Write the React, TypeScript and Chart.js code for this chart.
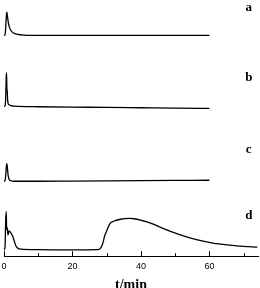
import React, { useEffect, useRef } from "react";
import { Chart, registerables } from "chart.js";

Chart.register(...registerables);

// time (min) and signal (a.u.) for each trace
const timeA = [0, 0.3, 0.5, 0.7, 0.85, 1.0, 1.3, 1.7, 2.2, 3, 4, 6, 10, 20, 30, 40, 50, 60];
const sigA = [0, 0.5, 8, 20, 23, 19, 12, 7, 4, 2, 1, 0.3, 0, 0, 0, 0, 0, 0];

const timeB = [0, 0.3, 0.5, 0.65, 0.75, 0.85, 0.95, 1.05, 1.2, 1.5, 2, 3, 10, 20, 30, 40, 50, 60];
const sigB = [1, 1.5, 10, 30, 34, 18, 16, 8, 4, 2.5, 1.8, 1.2, 0.6, 0.2, 0, -0.4, -0.8, -1];

const timeC = [0, 0.3, 0.5, 0.7, 0.85, 1.0, 1.2, 1.5, 2, 3, 10, 20, 30, 40, 50, 60];
const sigC = [0, 0.5, 6, 15, 17.5, 13, 6, 2, 0.5, 0, 0, 0.2, 0.4, 0.6, 0.8, 1];

const timeD = [0, 0.3, 0.5, 0.65, 0.8, 1.0, 1.15, 1.5, 2.0, 2.5, 3.0, 3.5, 4.2, 5, 10, 20, 27.5, 28.2, 28.8, 29.4, 30, 30.9, 32, 34, 36.7, 38, 40, 43, 46.4, 51.3, 56.2, 61, 66, 70, 74];
const sigD = [0, 3, 30, 38, 20, 22, 15, 19, 17, 14, 9, 4, 1.5, 1, 0.5, 0.3, 0.5, 2, 6, 14, 19, 26, 28.5, 30.5, 31.3, 31, 29.5, 26.5, 21.5, 15.3, 10.3, 7, 5, 3.8, 3];

// vertical offsets for stacking traces
const offsets = [218, 147, 74, 6];
const traceLabels = ["a", "b", "c", "d"];
const labelX = [71.5, 71.5, 71.5, 71.5];
const labelY = [245, 176, 105, 40];

const xTicksMajor = [0, 20, 40, 60];
const xTicksMinor = [10, 30, 50, 70];
const xTitle = "t/min";

export default function App() {
  const ref = useRef<HTMLCanvasElement | null>(null);
  useEffect(() => {
    document.body.style.margin = "0";
    const mk = (t: number[], s: number[], off: number) =>
      t.map((x, i) => ({ x, y: s[i] + off }));
    const datasets = [
      mk(timeA, sigA, offsets[0]),
      mk(timeB, sigB, offsets[1]),
      mk(timeC, sigC, offsets[2]),
      mk(timeD, sigD, offsets[3]),
    ].map((data) => ({
      data,
      borderColor: "#000",
      borderWidth: 1.3,
      pointRadius: 0,
      cubicInterpolationMode: "monotone" as const,
      fill: false,
    }));

    const extras = {
      id: "extras",
      afterDraw(chart: any) {
        const ctx = chart.ctx;
        const xs = chart.scales.x;
        const ys = chart.scales.y;
        const yb = xs.top;
        ctx.save();
        ctx.strokeStyle = "#000";
        ctx.lineWidth = 1;
        xTicksMajor.forEach((v) => {
          const px = Math.round(xs.getPixelForValue(v)) + 0.5;
          ctx.beginPath();
          ctx.moveTo(px, yb);
          ctx.lineTo(px, yb - 5);
          ctx.stroke();
        });
        xTicksMinor.forEach((v) => {
          const px = Math.round(xs.getPixelForValue(v)) + 0.5;
          ctx.beginPath();
          ctx.moveTo(px, yb);
          ctx.lineTo(px, yb - 3);
          ctx.stroke();
        });
        ctx.fillStyle = "#000";
        ctx.font = "bold 13px 'Liberation Serif'";
        ctx.textAlign = "center";
        ctx.textBaseline = "middle";
        traceLabels.forEach((l, i) => {
          ctx.fillText(l, xs.getPixelForValue(labelX[i]), ys.getPixelForValue(labelY[i]));
        });
        ctx.font = "bold 14px 'Liberation Serif'";
        ctx.fillText(xTitle, (chart.chartArea.left + chart.chartArea.right) / 2, yb + 29);
        ctx.restore();
      },
    };

    const chart = new Chart(ref.current!, {
      type: "line",
      data: { datasets },
      options: {
        animation: false,
        responsive: true,
        maintainAspectRatio: false,
        layout: { padding: { left: 4, right: 2, top: 0, bottom: 11 } },
        plugins: { legend: { display: false }, tooltip: { enabled: false } },
        scales: {
          x: {
            type: "linear",
            min: 0,
            max: 74.2,
            afterFit: (s: any) => {
              s.paddingLeft = 0;
              s.paddingRight = 0;
            },
            grid: { display: false, drawTicks: false },
            border: { display: true, color: "#000", width: 1 },
            ticks: {
              stepSize: 10,
              autoSkip: false,
              maxRotation: 0,
              padding: 5,
              color: "#000",
              font: { size: 9, family: "'Liberation Sans'" },
              callback: (v: any) => (Number(v) % 20 === 0 ? String(v) : ""),
            },
          },
          y: { display: false, min: 0, max: 253 },
        },
      },
      plugins: [extras],
    });
    return () => chart.destroy();
  }, []);
  return (
    <div style={{ width: 260, height: 288, position: "relative" }}>
      <canvas ref={ref} />
    </div>
  );
}
